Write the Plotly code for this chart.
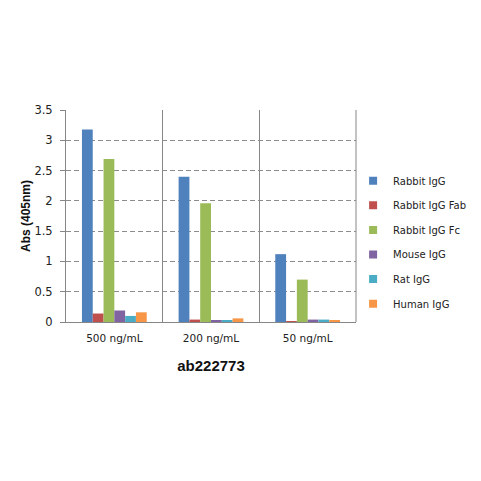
import plotly.graph_objects as go

concentrations = ["500 ng/mL", "200 ng/mL", "50 ng/mL"]

rabbit_igg = [3.18, 2.40, 1.12]
rabbit_igg_fab = [0.14, 0.04, 0.01]
rabbit_igg_fc = [2.69, 1.96, 0.70]
mouse_igg = [0.19, 0.03, 0.04]
rat_igg = [0.10, 0.03, 0.04]
human_igg = [0.16, 0.06, 0.03]

series = [
    ("Rabbit IgG", rabbit_igg, "#4F81BD"),
    ("Rabbit IgG Fab", rabbit_igg_fab, "#C0504D"),
    ("Rabbit IgG Fc", rabbit_igg_fc, "#9BBB59"),
    ("Mouse IgG", mouse_igg, "#8064A2"),
    ("Rat IgG", rat_igg, "#4BACC6"),
    ("Human IgG", human_igg, "#F79646"),
]

fig = go.Figure()
for i, (name, vals, col) in enumerate(series):
    fig.add_trace(go.Bar(
        x=concentrations, y=vals, name=name,
        marker=dict(color=col, line=dict(width=0)),
        showlegend=False,
    ))
    # square legend swatch, like the Excel legend
    fig.add_trace(go.Scatter(
        x=[None], y=[None], mode="markers", name=name,
        marker=dict(symbol="square", size=8, color=col),
        legendgroup=str(i),
    ))

fig.update_layout(
    width=481, height=481,
    margin=dict(l=58, r=133, t=102, b=167, autoexpand=False),
    paper_bgcolor="white", plot_bgcolor="white",
    barmode="group", bargap=0.33, bargroupgap=0,
    font=dict(family="DejaVu Sans", size=10.5, color="#222222"),
    legend=dict(
        x=0.99, y=0.735, xanchor="left", yanchor="top",
        bgcolor="rgba(0,0,0,0)",
        font=dict(family="DejaVu Sans", size=10, color="#222222"),
        tracegroupgap=5.6, itemwidth=30,
    ),
    shapes=[dict(type="line", xref="paper", yref="paper", x0=1, x1=1, y0=0, y1=1,
                 line=dict(color="#868686", width=1))],
)

fig.update_yaxes(
    range=[0, 3.5], dtick=0.5, automargin=False,
    showline=True, linecolor="#868686", linewidth=1,
    ticks="outside", ticklen=5, tickcolor="#868686", ticklabelstandoff=5,
    tickfont=dict(size=11.5),
    showgrid=True, gridcolor="#8c8c8c", griddash="5px,3px", gridwidth=1,
    zeroline=False,
    title=dict(text="<b>Abs (405nm)</b>", font=dict(family="Liberation Sans", size=12, color="#111111"), standoff=1),
)

fig.update_xaxes(
    tickson="boundaries", ticks="", automargin=False, ticklabelstandoff=6,
    showline=True, linecolor="#868686", linewidth=1,
    showgrid=True, gridcolor="#868686", gridwidth=1,
    title=dict(text="<b>ab222773</b>", font=dict(family="Liberation Sans", size=15, color="#111111"), standoff=17),
)

fig.write_html("out.html")
